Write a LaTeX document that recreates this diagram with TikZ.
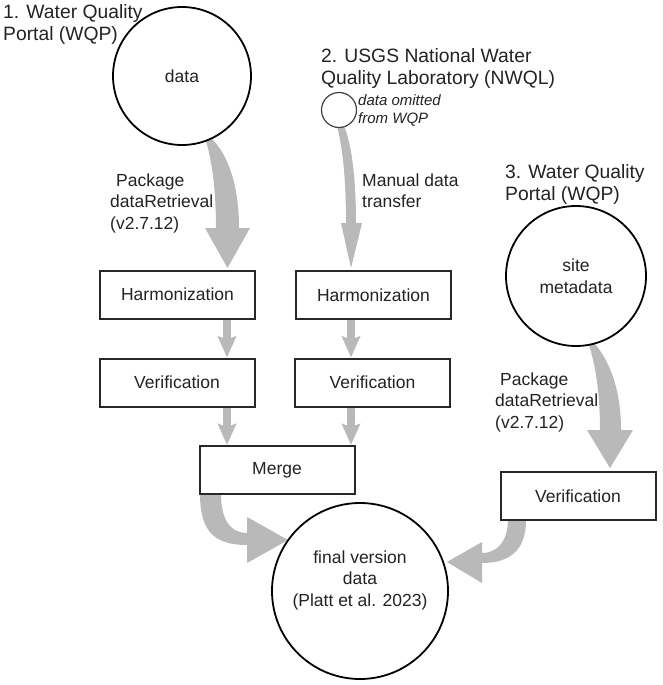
\documentclass[tikz,border=0pt]{standalone}
\usepackage{fontspec}
\setmainfont{Liberation Sans}
\usetikzlibrary{arrows.meta,calc}
\definecolor{arrowgray}{RGB}{185,185,185}
\definecolor{boxline}{RGB}{40,40,40}
\definecolor{textcol}{RGB}{35,35,35}
\newcommand{\bodyfont}{\fontsize{17.5}{21.5}\selectfont}
\newcommand{\headfont}{\fontsize{19.3}{22}\selectfont}
\newcommand{\notefont}{\fontsize{15}{18}\selectfont\itshape}
\newcommand{\lineblock}[1]{\begin{tabular}[t]{@{}l@{}}#1\end{tabular}}
\begin{document}
\begin{tikzpicture}[x=1pt,y=-1pt,
  every node/.style={text=textcol},
  procbox/.style={draw=boxline, line width=2pt, minimum width=155pt, minimum height=48pt, inner sep=0pt, font=\bodyfont, fill=white},
  bigcircle/.style={circle, draw=black, line width=1.8pt, inner sep=0pt, font=\bodyfont, align=center, fill=white},
  txt/.style={inner sep=0pt, anchor=base west},
  flow/.style={fill=arrowgray},
  smallflow/.style={draw=arrowgray, line width=8pt, -{Stealth[width=18pt,length=21pt,inset=3pt]}}
]
\fill[white] (0,0) rectangle (662,685);
\useasboundingbox (0,0) rectangle (662,685);

% curved gray flow arrows (drawn first, nodes on top)
\fill[flow] (206,141) .. controls (213,165) and (216,195) .. (216,228) -- (205,228) -- (227.5,268) -- (250,228) -- (239,228) .. controls (239,185) and (228,155) .. (212,139) -- cycle;
\fill[flow] (337,126) .. controls (343,150) and (346,180) .. (346,223) -- (341,223) -- (351,268) -- (362,223) -- (356,223) .. controls (356,180) and (352,145) .. (344,126) -- cycle;
\fill[flow] (589,345) .. controls (597,370) and (600,400) .. (600,430) -- (587,430) -- (610,468) -- (633,430) -- (621,430) .. controls (621,390) and (610,362) .. (595,344) -- cycle;
\fill[flow] (200,494) .. controls (200,532) and (215,545) .. (247,545) -- (247,563) -- (288,540) -- (247,517) -- (247,533) .. controls (232,533) and (221,522) .. (221,494) -- cycle;
\fill[flow] (526,520) .. controls (526,550) and (510,563) .. (482,563) -- (482,583) -- (447,562) -- (482,542) -- (482,553) .. controls (498,553) and (508,540) .. (508,520) -- cycle;

% circles
\node[bigcircle, minimum size=138pt] (data) at (182,76) {data};
\node[circle, draw=black!75, line width=1.2pt, minimum size=35pt, inner sep=0pt, fill=white] (nwql) at (339,110) {};
\node[bigcircle, minimum size=140pt] (site) at (576,276) {site\\metadata};
\node[bigcircle, minimum size=176pt] (final) at (360,591) {};
\node[font=\bodyfont, align=center, inner sep=0pt] (finaltext) at (360,580) {final version\\data\\(Platt et al. 2023)};

% boxes
\node[procbox] (h1) at (177.5,294.5) {Harmonization};
\node[procbox] (h2) at (373.5,295) {Harmonization};
\node[procbox] (v1) at (177,382.5) {Verification};
\node[procbox] (v2) at (372.5,382.5) {Verification};
\node[procbox] (merge) at (277,470) {Merge};
\node[procbox] (v3) at (578,496) {Verification};

% labels
\node[txt, font=\headfont] (t1) at (3,19) {\lineblock{1. Water Quality\\Portal (WQP)}};
\node[txt, font=\headfont] (t2) at (321,63) {\lineblock{2. USGS National Water\\Quality Laboratory (NWQL)}};
\node[txt, font=\headfont] (t3) at (505,178) {\lineblock{3. Water Quality\\Portal (WQP)}};
\node[txt, font=\notefont] (note) at (358,105) {\lineblock{data omitted\\from WQP}};
\node[txt, font=\bodyfont] (manual) at (362,186) {\lineblock{Manual data\\transfer}};
\node[txt, font=\bodyfont] (pkg1) at (110,186) {\lineblock{\hspace{6pt}Package\\dataRetrieval\\(v2.7.12)}};
\node[txt, font=\bodyfont] (pkg2) at (495,385) {\lineblock{\hspace{5pt}Package\\dataRetrieval\\(v2.7.12)}};

% straight small arrows
\coordinate (c1) at (227,0);
\coordinate (c2) at (351,0);
\draw[smallflow] (h1.south -| c1) -- (v1.north -| c1);
\draw[smallflow] (h2.south -| c2) -- (v2.north -| c2);
\draw[smallflow] (v1.south -| c1) -- (merge.north -| c1);
\draw[smallflow] (v2.south -| c2) -- (merge.north -| c2);
\end{tikzpicture}
\end{document}
